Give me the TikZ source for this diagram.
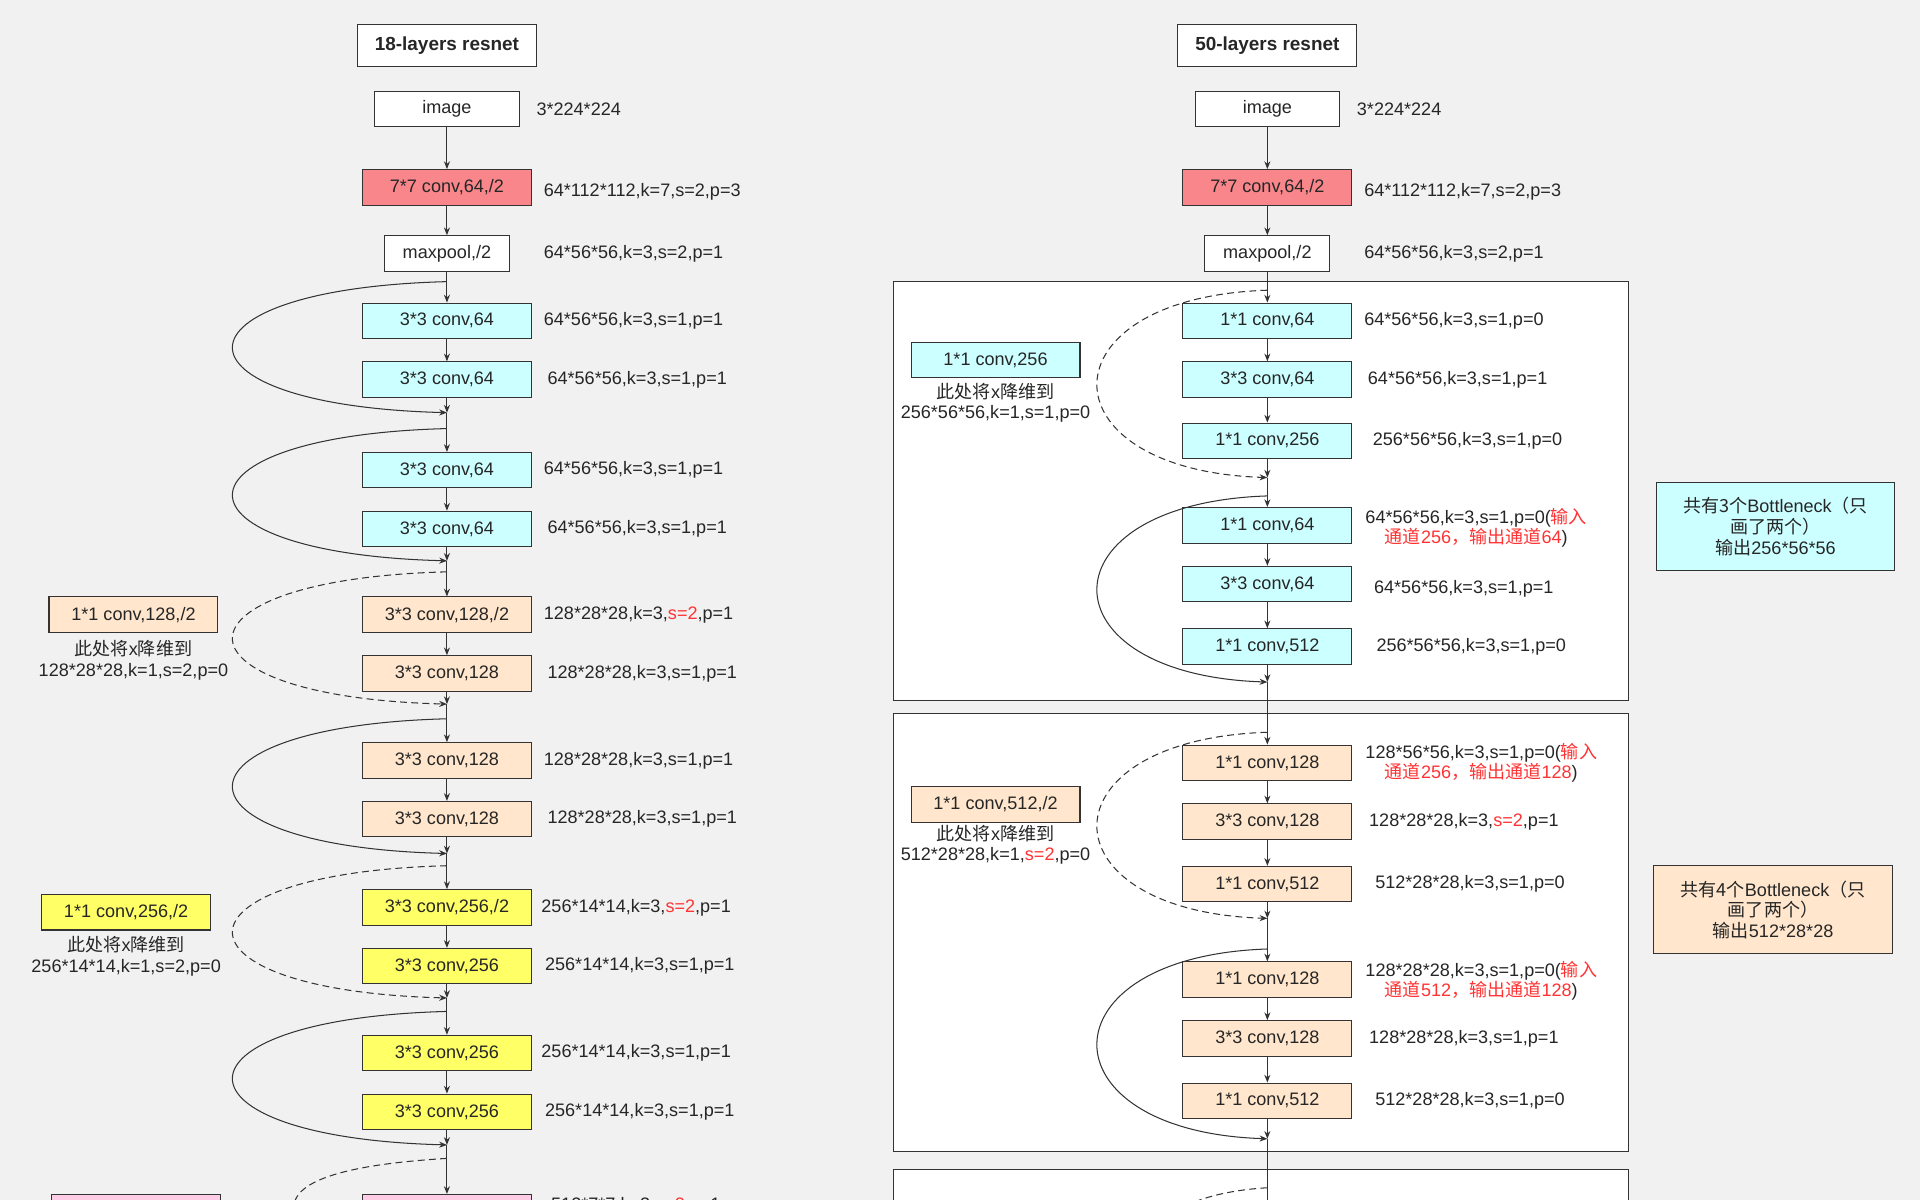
\documentclass[tikz,border=0pt]{standalone}
\usepackage{fontspec}
\setmainfont{Liberation Sans}
\newfontfamily\cjk{Noto Sans CJK SC}
\newcommand{\C}[1]{{\cjk #1}}
\usetikzlibrary{arrows.meta}
\definecolor{bg}{HTML}{F1F1F1}
\definecolor{ln}{HTML}{333333}
\definecolor{cy}{HTML}{CCFFFF}
\definecolor{og}{HTML}{FFE6CC}
\definecolor{yl}{HTML}{FFFF66}
\definecolor{rd}{HTML}{F8868A}
\definecolor{pk}{HTML}{FFCCE6}
\definecolor{tr}{HTML}{FF3333}
\newcommand{\R}[1]{\textcolor{tr}{#1}}
\begin{document}
\begin{tikzpicture}[x=0.05cm,y=-0.05cm,
  every node/.style={font=\fontsize{21}{24}\selectfont, text=black!85},
  box/.style={draw=ln, line width=1.2pt, minimum width=6.9cm, minimum height=1.45cm, inner sep=0pt},
  wb/.style={box, fill=white, minimum width=5.9cm},
  ttl/.style={box, fill=white, minimum width=7.3cm, minimum height=1.7cm, font=\fontsize{22}{24}\selectfont\bfseries},
  cyb/.style={box, fill=cy}, ogb/.style={box, fill=og}, ylb/.style={box, fill=yl}, rdb/.style={box, fill=rd}, pkb/.style={box, fill=pk},
  lab/.style={anchor=west, inner sep=0pt},
  sub/.style={align=center, inner sep=0pt},
  ar/.style={draw=ln, line width=1.2pt, -{Stealth[length=9pt,width=7pt]}},
  sk/.style={ar},
  dsk/.style={ar, dashed, dash pattern=on 8pt off 5pt},
  frame/.style={draw=ln, line width=1.2pt, fill=white}]
\useasboundingbox (0,0) rectangle (1568,980);
\clip (0,0) rectangle (1568,980);
\fill[bg] (0,0) rectangle (1568,980);
% ---------- left ----------
\node[ttl] (T1) at (365,37) {18-layers resnet};
\node[wb] (L0) at (365,89) {image};
\node[lab] at (438,89) {3*224*224};
\node[rdb] (L1) at (365,153) {7*7 conv,64,/2};
\node[lab] at (444,157) {64*112*112,k=7,s=2,p=3};
\node[box,fill=white,minimum width=5.1cm] (L2) at (365,207) {maxpool,/2};
\node[lab] at (444,207) {64*56*56,k=3,s=2,p=1};
\node[cyb] (L3) at (365,262) {3*3 conv,64};
\node[lab] at (444,262) {64*56*56,k=3,s=1,p=1};
\node[cyb] (L4) at (365,310) {3*3 conv,64};
\node[lab] at (447,310) {64*56*56,k=3,s=1,p=1};
\node[cyb] (L5) at (365,384) {3*3 conv,64};
\node[lab] at (444,384) {64*56*56,k=3,s=1,p=1};
\node[cyb] (L6) at (365,432) {3*3 conv,64};
\node[lab] at (447,432) {64*56*56,k=3,s=1,p=1};
\node[ogb] (L7) at (365,502) {3*3 conv,128,/2};
\node[lab] at (444,502) {128*28*28,k=3,\R{s=2},p=1};
\node[ogb] (L8) at (365,550) {3*3 conv,128};
\node[lab] at (447,550) {128*28*28,k=3,s=1,p=1};
\node[ogb] (L9) at (365,621) {3*3 conv,128};
\node[lab] at (444,621) {128*28*28,k=3,s=1,p=1};
\node[ogb] (L10) at (365,669) {3*3 conv,128};
\node[lab] at (447,669) {128*28*28,k=3,s=1,p=1};
\node[ylb] (L11) at (365,741) {3*3 conv,256,/2};
\node[lab] at (442,741) {256*14*14,k=3,\R{s=2},p=1};
\node[ylb] (L12) at (365,789) {3*3 conv,256};
\node[lab] at (445,789) {256*14*14,k=3,s=1,p=1};
\node[ylb] (L13) at (365,860) {3*3 conv,256};
\node[lab] at (442,860) {256*14*14,k=3,s=1,p=1};
\node[ylb] (L14) at (365,908) {3*3 conv,256};
\node[lab] at (445,908) {256*14*14,k=3,s=1,p=1};
\node[pkb] (L15) at (365,990) {3*3 conv,512,/2};
\node[lab] at (450,985) {512*7*7,k=3,\R{s=2},p=1};
\node[pkb] (P1) at (111,990) {};
\node[ogb] (S1) at (109,502) {1*1 conv,128,/2};
\node[sub] at (109,539) {\C{此处将}x\C{降维到}\\128*28*28,k=1,s=2,p=0};
\node[ylb] (S2) at (103,745) {1*1 conv,256,/2};
\node[sub] at (103,781) {\C{此处将}x\C{降维到}\\256*14*14,k=1,s=2,p=0};
\coordinate (a1) at (365,230); \coordinate (b1) at (365,337);
\coordinate (a2) at (365,350); \coordinate (b2) at (365,458);
\coordinate (a3) at (365,467); \coordinate (b3) at (365,575);
\coordinate (a4) at (365,587); \coordinate (b4) at (365,697);
\coordinate (a5) at (365,707); \coordinate (b5) at (365,815);
\coordinate (a6) at (365,826); \coordinate (b6) at (365,935);
\coordinate (a7) at (365,946); \coordinate (b7) at (240,990);
\draw[ar] (L0)--(L1); \draw[ar] (L1)--(L2); \draw[ar] (L2)--(L3); \draw[ar] (L3)--(L4);
\draw[ar] (L4)--(b1); \draw[ar] (b1)--(L5); \draw[ar] (L5)--(L6);
\draw[ar] (L6)--(b2); \draw[ar] (b2)--(L7); \draw[ar] (L7)--(L8);
\draw[ar] (L8)--(b3); \draw[ar] (b3)--(L9); \draw[ar] (L9)--(L10);
\draw[ar] (L10)--(b4); \draw[ar] (b4)--(L11); \draw[ar] (L11)--(L12);
\draw[ar] (L12)--(b5); \draw[ar] (b5)--(L13); \draw[ar] (L13)--(L14);
\draw[ar] (L14)--(b6); \draw[ar] (b6)--(L15);
\draw[sk] (a1) .. controls (132,236) and (132,331) .. (b1);
\draw[sk] (a2) .. controls (132,356) and (132,452) .. (b2);
\draw[dsk] (a3) .. controls (132,473) and (132,569) .. (b3);
\draw[sk] (a4) .. controls (132,593) and (132,691) .. (b4);
\draw[dsk] (a5) .. controls (132,713) and (132,809) .. (b5);
\draw[sk] (a6) .. controls (132,832) and (132,929) .. (b6);
\draw[dsk] (a7) .. controls (300,950) and (240,960) .. (b7);
% ---------- right ----------
\draw[frame] (730,230) rectangle (1330,572);
\draw[frame] (730,583) rectangle (1330,940);
\draw[frame] (730,955) rectangle (1330,1000);
\node[ttl] (T2) at (1035,37) {50-layers resnet};
\node[wb] (R0) at (1035,89) {image};
\node[lab] at (1108,89) {3*224*224};
\node[rdb] (R1) at (1035,153) {7*7 conv,64,/2};
\node[lab] at (1114,157) {64*112*112,k=7,s=2,p=3};
\node[box,fill=white,minimum width=5.1cm] (R2) at (1035,207) {maxpool,/2};
\node[lab] at (1114,207) {64*56*56,k=3,s=2,p=1};
\node[cyb] (R3) at (1035,262) {1*1 conv,64};
\node[lab] at (1114,262) {64*56*56,k=3,s=1,p=0};
\node[cyb] (R4) at (1035,310) {3*3 conv,64};
\node[lab] at (1117,310) {64*56*56,k=3,s=1,p=1};
\node[cyb] (R5) at (1035,360) {1*1 conv,256};
\node[lab] at (1121,360) {256*56*56,k=3,s=1,p=0};
\node[cyb] (R6) at (1035,429) {1*1 conv,64};
\node[lab,align=center] at (1115,431) {64*56*56,k=3,s=1,p=0(\R{\C{输入}}\\\R{\C{通道}256\C{，输出通道}64})};
\node[cyb] (R7) at (1035,477) {3*3 conv,64};
\node[lab] at (1122,481) {64*56*56,k=3,s=1,p=1};
\node[cyb] (R8) at (1035,528) {1*1 conv,512};
\node[lab] at (1124,528) {256*56*56,k=3,s=1,p=0};
\node[ogb] (R9) at (1035,623) {1*1 conv,128};
\node[lab,align=center] at (1115,623) {128*56*56,k=3,s=1,p=0(\R{\C{输入}}\\\R{\C{通道}256\C{，输出通道}128})};
\node[ogb] (R10) at (1035,671) {3*3 conv,128};
\node[lab] at (1118,671) {128*28*28,k=3,\R{s=2},p=1};
\node[ogb] (R11) at (1035,722) {1*1 conv,512};
\node[lab] at (1123,722) {512*28*28,k=3,s=1,p=0};
\node[ogb] (R12) at (1035,800) {1*1 conv,128};
\node[lab,align=center] at (1115,801) {128*28*28,k=3,s=1,p=0(\R{\C{输入}}\\\R{\C{通道}512\C{，输出通道}128})};
\node[ogb] (R13) at (1035,848) {3*3 conv,128};
\node[lab] at (1118,848) {128*28*28,k=3,s=1,p=1};
\node[ogb] (R14) at (1035,899) {1*1 conv,512};
\node[lab] at (1123,899) {512*28*28,k=3,s=1,p=0};
\node[cyb] (S3) at (813,294) {1*1 conv,256};
\node[sub] at (813,329) {\C{此处将}x\C{降维到}\\256*56*56,k=1,s=1,p=0};
\node[ogb] (S4) at (813,657) {1*1 conv,512,/2};
\node[sub] at (813,690) {\C{此处将}x\C{降维到}\\512*28*28,k=1,\R{s=2},p=0};
\node[box,fill=cy,minimum width=9.75cm,minimum height=3.6cm,align=center] (B1) at (1450,430) {\C{共有3个}Bottleneck\C{（只}\\\C{画了两个）}\\\C{输出}256*56*56};
\node[box,fill=og,minimum width=9.75cm,minimum height=3.6cm,align=center] (B2) at (1448,743) {\C{共有4个}Bottleneck\C{（只}\\\C{画了两个）}\\\C{输出}512*28*28};
\coordinate (c1) at (1035,237); \coordinate (d1) at (1035,390);
\coordinate (c2) at (1035,405); \coordinate (d2) at (1035,557);
\coordinate (c3) at (1035,598); \coordinate (d3) at (1035,750);
\coordinate (c4) at (1035,775); \coordinate (d4) at (1035,930);
\coordinate (c5) at (1035,970); \coordinate (d5) at (960,990);
\coordinate (e5) at (1035,990);
\draw[ar] (R0)--(R1); \draw[ar] (R1)--(R2); \draw[ar] (R2)--(R3); \draw[ar] (R3)--(R4); \draw[ar] (R4)--(R5);
\draw[ar] (R5)--(d1); \draw[ar] (d1)--(R6); \draw[ar] (R6)--(R7); \draw[ar] (R7)--(R8);
\draw[ar] (R8)--(d2); \draw[ar] (d2)--(R9); \draw[ar] (R9)--(R10); \draw[ar] (R10)--(R11);
\draw[ar] (R11)--(d3); \draw[ar] (d3)--(R12); \draw[ar] (R12)--(R13); \draw[ar] (R13)--(R14);
\draw[ar] (R14)--(d4); \draw[ar] (d4)--(e5);
\draw[dsk] (c1) .. controls (850,243) and (850,384) .. (d1);
\draw[sk] (c2) .. controls (850,411) and (850,551) .. (d2);
\draw[dsk] (c3) .. controls (850,604) and (850,744) .. (d3);
\draw[sk] (c4) .. controls (850,781) and (850,924) .. (d4);
\draw[dsk] (c5) .. controls (1000,972) and (975,980) .. (d5);
\end{tikzpicture}
\end{document}
